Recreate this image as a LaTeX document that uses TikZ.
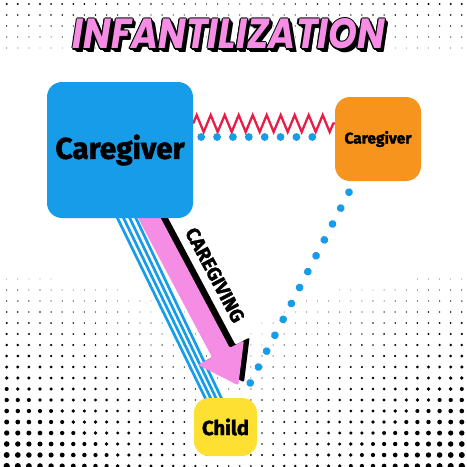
\documentclass[tikz,border=0pt]{standalone}
\usepackage{fontspec}
\usepackage{graphicx}
\usetikzlibrary{calc,decorations.pathmorphing,decorations.markings}
\newfontfamily\labelfont{Fira Sans}[BoldFeatures={FakeBold=1.8}]
\newfontfamily\titlefont{Poppins}
\definecolor{cgblue}{RGB}{22,156,232}
\definecolor{cgorange}{RGB}{247,148,29}
\definecolor{cgyellow}{RGB}{253,224,50}
\definecolor{cgred}{RGB}{232,30,72}
\definecolor{cgpink}{RGB}{245,141,228}
\pgfdeclarelayer{bgdots}
\pgfdeclarelayer{conn}
\pgfsetlayers{bgdots,conn,main}
\newcommand{\titletext}{\resizebox{312pt}{30pt}{\titlefont\bfseries\itshape INFANTILIZATION}}
\begin{document}
\begin{tikzpicture}[x=1pt,y=-1pt,
  box/.style={rounded corners=15pt, inner sep=0pt, text=black},
  dotrow/.style={postaction={decorate}, decoration={markings,
      mark=between positions 0 and 1 step #1 with {\fill[cgblue] (0,0) circle[radius=3.9pt];}}},
  bluelines/.style={cgblue, line width=2.7pt},
  arrowshape/.style={rounded corners=2pt},
  titlecopy/.style={inner sep=0pt, text=black},
  zig/.style={cgred, line width=2.3pt, decorate, decoration={zigzag, segment length=14pt, amplitude=8.5pt}}]
\useasboundingbox (0,0) rectangle (467,467);
\begin{pgfonlayer}{bgdots}
  \fill[white] (0,0) rectangle (467,467);
  \foreach \i in {0,...,41}{
    \foreach \j in {0,...,42}{
      \pgfmathsetmacro\px{6.7+11.1*\i}
      \pgfmathsetmacro\py{4+11*\j}
      \pgfmathsetmacro\dd{abs(\px-233)/233}
      \pgfmathsetmacro\rb{3.2*max(0,(\py-250)/216)*(0.25+0.75*\dd)}
      \pgfmathsetmacro\rt{1.1*max(0,1-(\py-4)/80)*(0.6+0.4*\dd)}
      \pgfmathsetmacro\rr{max(\rb,\rt)}
      \ifdim\rr pt>0.35pt \fill[black] (\px,\py) circle[radius=\rr]; \fi
    }}
\end{pgfonlayer}

% boxes
\node[box, fill=cgblue, minimum width=146pt, minimum height=136pt] (cg) at (120,150)
  {\raisebox{-2.5pt}{\resizebox{129pt}{!}{\labelfont\bfseries Caregiver}}};
\node[box, fill=cgorange, minimum width=86pt, minimum height=84pt] (or) at (378,139)
  {\raisebox{-1.2pt}{\resizebox{67pt}{!}{\labelfont\bfseries Caregiver}}};
\node[box, fill=cgyellow, minimum width=63pt, minimum height=58pt] (ch) at (225.5,427)
  {\resizebox{47pt}{!}{\labelfont\bfseries Child}};

\begin{pgfonlayer}{conn}
  % four parallel lines
  \foreach \k in {0,...,3}
    \draw[bluelines] ($(cg.south)+(-8.8+6.2*\k,-13)$) -- ($(ch.north)+(-14.5+5.3*\k,12)$);
  % caregiving arrow
  \begin{scope}[shift={($(cg.south)+(30.5,2)$)}, rotate=-62]
    \fill[black, arrowshape, shift={(0,-6.5)}] (-30,-10) -- (150,-10) -- (150,-26) -- (187,0) -- (150,26) -- (150,10) -- (-30,10) -- cycle;
    \fill[cgpink, arrowshape] (-30,-10) -- (150,-10) -- (150,-26) -- (187,0) -- (150,26) -- (150,10) -- (-30,10) -- cycle;
  \end{scope}
  % zigzag and dotted connectors
  \draw[zig] ($(cg.east)+(0,-26.5)$) -- ($(or.west)+(0,-15.5)$);
  \path[dotrow=15.87pt] ($(cg.east)+(8,-13)$) -- ($(or.west)+(-7,-2)$);
  \path[dotrow=17.9pt] ($(or.south)+(-29,11)$) -- ($(ch.north)+(16.5,1)$);
\end{pgfonlayer}

% arrow label
\node[rotate=-62, inner sep=0pt] (cglabel) at (215,275) {\resizebox{104pt}{!}{\labelfont\bfseries CAREGIVING}};

% title with shadow and outline
\foreach \d [count=\n] in {0.5,1,...,3.5}
  \node[titlecopy] (tsh\n) at (229+\d,34+\d) {\titletext};
\foreach \a [count=\n] in {0,45,...,315}
  \node[titlecopy] (tol\n) at ($(229,34)+(\a:1.2)$) {\titletext};
\node[titlecopy, text=cgpink] (title) at (229,34) {\titletext};
\end{tikzpicture}
\end{document}
